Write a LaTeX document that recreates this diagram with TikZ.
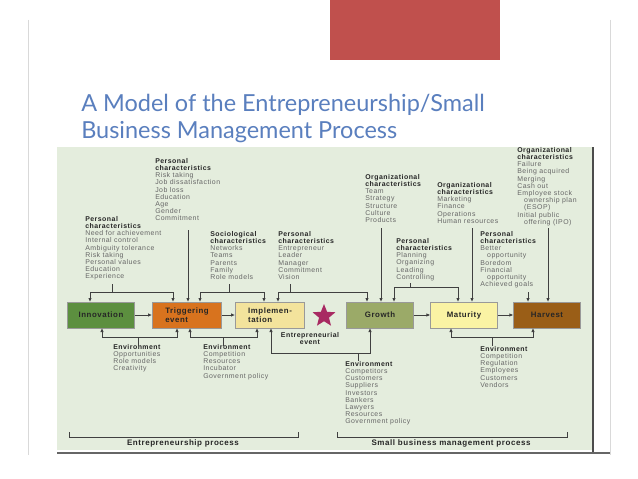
\documentclass[tikz,border=0pt]{standalone}
\usepackage{fontspec}
\setmainfont{Liberation Sans}[LetterSpace=7]
\newfontfamily\titlefont{Lato}
\usetikzlibrary{shapes.geometric,arrows.meta}
\definecolor{bgg}{HTML}{E4EDDD}
\definecolor{ttl}{HTML}{5A7FBE}
\definecolor{redb}{HTML}{C0504D}
\definecolor{cinn}{HTML}{5C8F3F}
\definecolor{ctrig}{HTML}{D8731E}
\definecolor{cimp}{HTML}{F3E39C}
\definecolor{cgro}{HTML}{9BAA68}
\definecolor{cmat}{HTML}{FAF3A4}
\definecolor{charv}{HTML}{9A5E17}
\definecolor{cstar}{HTML}{A82A62}
\definecolor{itm}{HTML}{666666}
\tikzset{
  tb/.style={font=\fontsize{5.2}{5.4}\selectfont, text=itm, align=left, inner sep=0pt, anchor=north west},
  box/.style={draw=black!40, minimum width=50pt, minimum height=19.5pt, inner sep=0pt, font=\fontsize{5.9}{6.6}\selectfont\bfseries, text=black!85, align=left},
  ln/.style={draw=black!75, line width=0.6pt},
  arr/.style={ln, -{Latex[length=3pt,width=2.6pt]}},
}
\newcommand{\hd}[1]{\textcolor{black!85}{\bfseries #1}}
\begin{document}
\begin{tikzpicture}[x=0.75pt,y=-0.75pt]
\useasboundingbox (0,0) rectangle (638,478);
\fill[white] (0,0) rectangle (638,478);
\fill[redb] (330,0) rectangle (500,60);
\draw[black!15] (28,20) -- (28,455) (610,20) -- (610,455);
\node[anchor=west, inner sep=0, text=ttl, font=\titlefont\fontsize{17.6}{20}\selectfont] (t1) at (81,105) {A Model of the Entrepreneurship/Small};
\node[anchor=west, inner sep=0, text=ttl, font=\titlefont\fontsize{17.6}{20}\selectfont] (t2) at (81,132) {Business Management Process};
\fill[bgg] (57,147) rectangle (593,450);
\draw[black!70, line width=1pt] (593,147) -- (593,452);
\draw[black!60, line width=1pt] (57,453) -- (610,453);

% boxes
\node[box, fill=cinn, minimum width=50pt] (inn) at (101,315) {Innovation};
\node[box, fill=ctrig, minimum width=52pt] (trig) at (187,315) {Triggering\\event};
\node[box, fill=cimp, minimum width=52pt] (imp) at (270,315) {Implemen-\\tation};
\node[star, star points=5, star point ratio=2.3, fill=cstar, minimum size=18pt, inner sep=0] (star) at (324,316) {};
\node[box, fill=cgro, minimum width=50pt] (gro) at (380,315) {Growth};
\node[box, fill=cmat, minimum width=50pt] (mat) at (464,315) {Maturity};
\node[box, fill=charv, minimum width=50pt] (harv) at (547,315) {Harvest};
\draw[arr] (inn) -- (trig);
\draw[arr] (trig) -- (imp);
\draw[arr] (gro) -- (mat);
\draw[arr] (mat) -- (harv);

% top text blocks
\node[tb] (p1) at (155,158) {\hd{Personal}\\\hd{characteristics}\\Risk taking\\Job dissatisfaction\\Job loss\\Education\\Age\\Gender\\Commitment};
\node[tb] (p0) at (85,216) {\hd{Personal}\\\hd{characteristics}\\Need for achievement\\Internal control\\Ambiguity tolerance\\Risk taking\\Personal values\\Education\\Experience};
\node[tb] (s2) at (210,231) {\hd{Sociological}\\\hd{characteristics}\\Networks\\Teams\\Parents\\Family\\Role models};
\node[tb] (p2) at (278,231) {\hd{Personal}\\\hd{characteristics}\\Entrepreneur\\Leader\\Manager\\Commitment\\Vision};
\node[tb] (o3) at (365,174) {\hd{Organizational}\\\hd{characteristics}\\Team\\Strategy\\Structure\\Culture\\Products};
\node[tb] (o4) at (437,182) {\hd{Organizational}\\\hd{characteristics}\\Marketing\\Finance\\Operations\\Human resources};
\node[tb] (p3) at (396,238) {\hd{Personal}\\\hd{characteristics}\\Planning\\Organizing\\Leading\\Controlling};
\node[tb] (o5) at (517,147) {\hd{Organizational}\\\hd{characteristics}\\Failure\\Being acquired\\Merging\\Cash out\\Employee stock\\\quad ownership plan\\\quad (ESOP)\\Initial public\\\quad offering (IPO)};
\node[tb] (p5) at (480,231) {\hd{Personal}\\\hd{characteristics}\\Better\\\quad opportunity\\Boredom\\Financial\\\quad opportunity\\Achieved goals};

% bottom text blocks
\node[tb] (e1) at (113,344) {\hd{Environment}\\Opportunities\\Role models\\Creativity};
\node[tb] (e2) at (203,344) {\hd{Environment}\\Competition\\Resources\\Incubator\\Government policy};
\node[tb, align=center, anchor=north] (ev) at (310,332) {\hd{Entrepreneurial}\\\hd{event}};
\node[tb] (e3) at (345,361) {\hd{Environment}\\Competitors\\Customers\\Suppliers\\Investors\\Bankers\\Lawyers\\Resources\\Government policy};
\node[tb] (e5) at (480,346) {\hd{Environment}\\Competition\\Regulation\\Employees\\Customers\\Vendors};

% top connectors
\coordinate (b0) at (112,292);
\draw[ln] (112,284) -- (b0);
\draw[arr] (b0) -| (90,302);
\draw[arr] (b0) -| (173,302);
\draw[arr] (188,230) -- (188,302);
\coordinate (bs) at (229,292);
\draw[ln] (229,284) -- (bs);
\draw[arr] (bs) -| (200,302);
\draw[arr] (bs) -| (264,302);
\coordinate (bp) at (290,292);
\draw[ln] (290,284) -- (bp);
\draw[arr] (bp) -| (278,302);
\draw[arr] (bp) -| (367,302);
\draw[arr] (381,228) -- (381,302);
\coordinate (bg) at (410,287);
\draw[ln] (410,283) -- (bg);
\draw[arr] (bg) -| (394,302);
\draw[arr] (bg) -| (458,302);
\draw[arr] (472,228) -- (472,302);
\draw[arr] (528,292) -- (528,302);
\draw[arr] (548,228) -- (548,302);

% bottom connectors
\coordinate (c1) at (138,337);
\draw[ln] (138,346) -- (c1);
\draw[arr] (c1) -| (102,328);
\draw[arr] (c1) -| (177,328);
\coordinate (c2) at (223,337);
\draw[ln] (223,346) -- (c2);
\draw[arr] (c2) -| (190,328);
\draw[arr] (c2) -| (257,328);
\coordinate (c3) at (358,353);
\draw[ln] (358,361) -- (c3);
\draw[arr] (c3) -| (271,328);
\draw[arr] (c3) -| (370,328);
\coordinate (c5) at (492,337);
\draw[ln] (492,346) -- (c5);
\draw[arr] (c5) -| (451,328);
\draw[arr] (c5) -| (533,328);

% brackets
\draw[ln, line width=0.5pt] (69,432) -- (69,437) -- (298,437) -- (298,432);
\draw[ln, line width=0.5pt] (337,432) -- (337,437) -- (567,437) -- (567,432);
\node[font=\fontsize{6}{6.6}\selectfont\bfseries, text=black!85, inner sep=0] (l1) at (183,443) {Entrepreneurship process};
\node[font=\fontsize{6}{6.6}\selectfont\bfseries, text=black!85, inner sep=0] (l2) at (451,443) {Small business management process};
\end{tikzpicture}
\end{document}
